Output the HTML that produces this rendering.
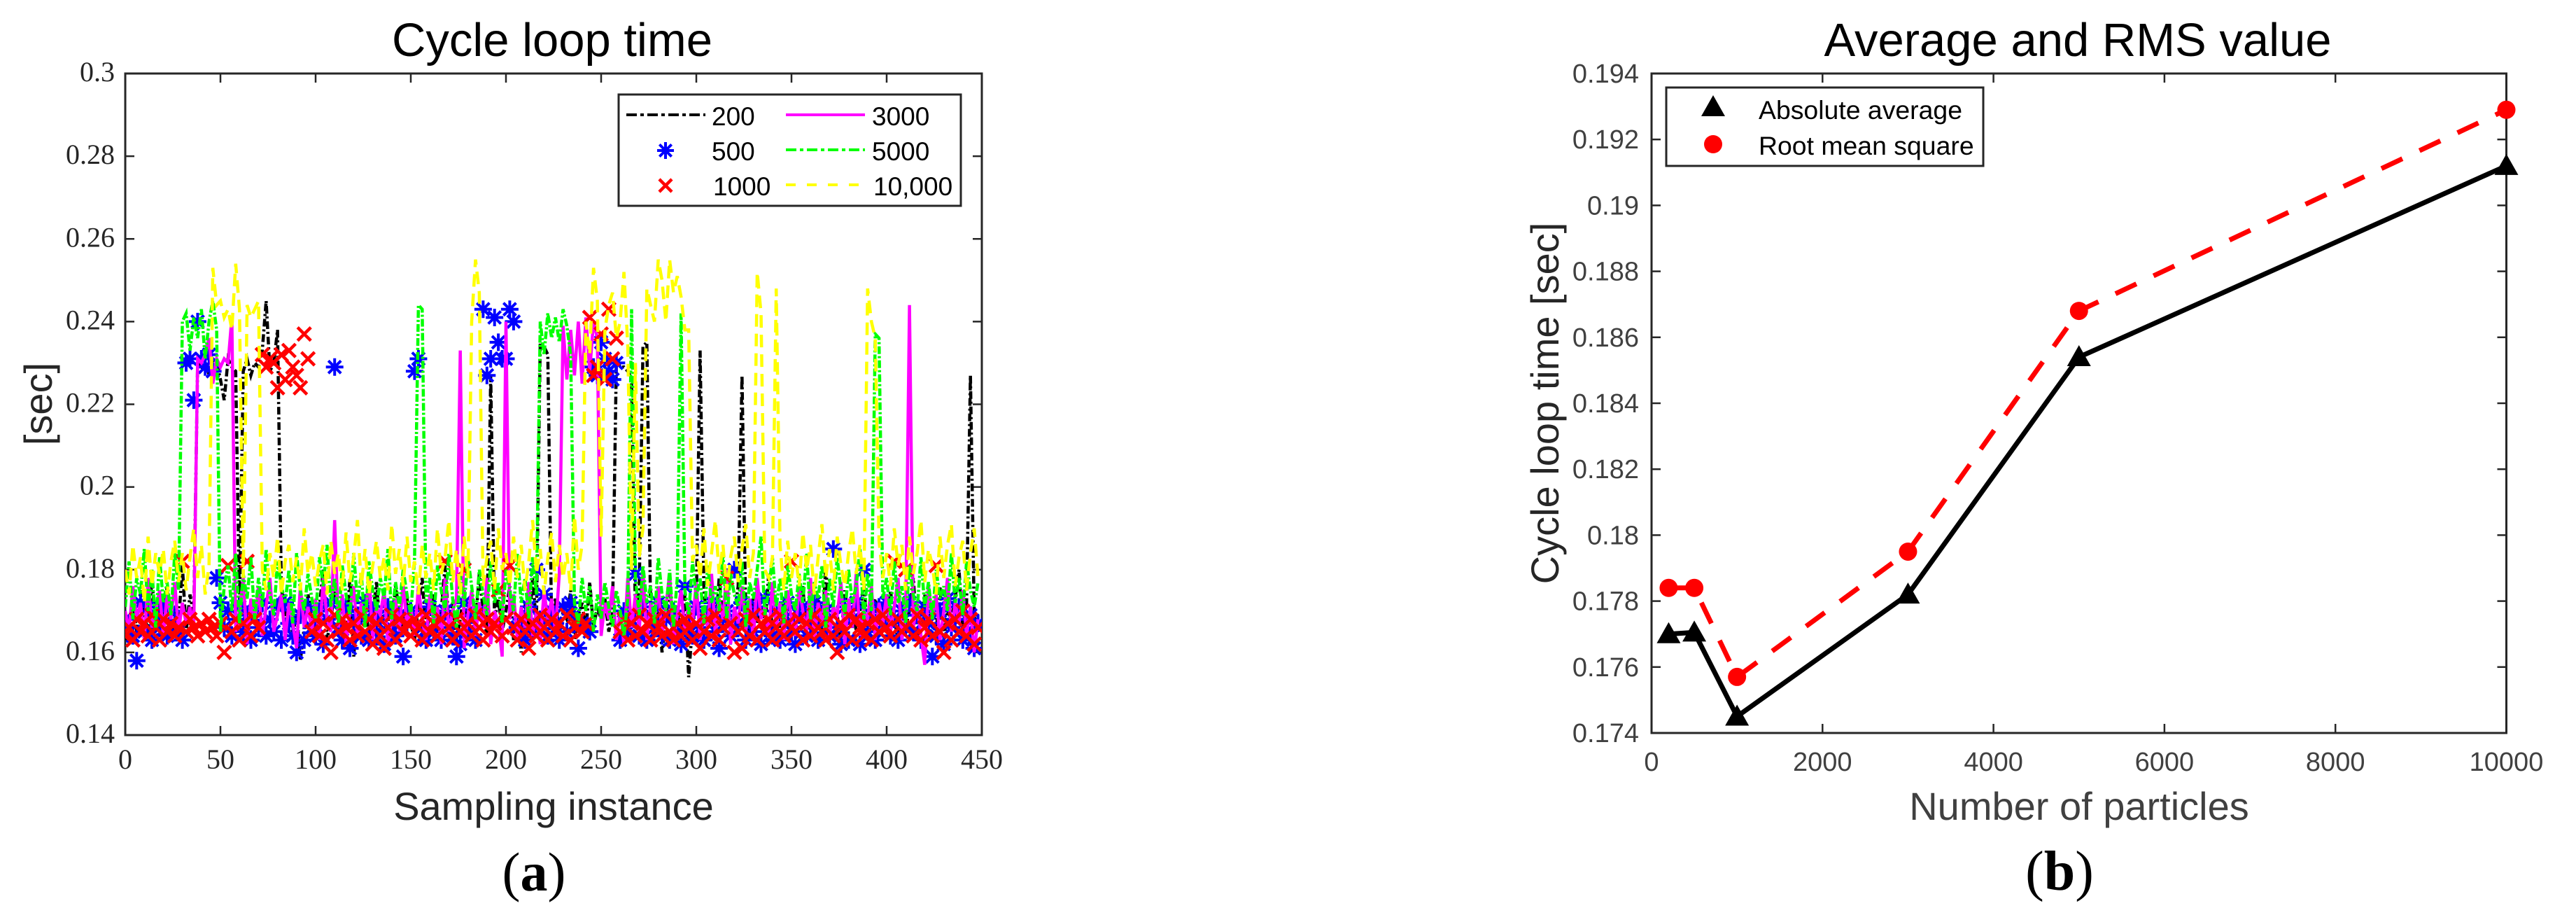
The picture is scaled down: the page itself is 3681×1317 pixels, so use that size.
<!DOCTYPE html>
<html lang="en">
<head>
<meta charset="utf-8">
<title>Cycle loop time and RMS value</title>
<style>
html,body{margin:0;padding:0;background:#fff}
svg{display:block}
.sans{font-family:"Liberation Sans",sans-serif}
.serif{font-family:"Liberation Serif",serif}
</style>
</head>
<body>
<svg id="fig" xmlns="http://www.w3.org/2000/svg" width="3681" height="1317" viewBox="0 0 3681 1317">
<rect width="3681" height="1317" fill="#fff"/>
<defs><clipPath id="clipA"><rect x="179" y="105" width="1224" height="945"/></clipPath></defs>
<g id="chartA">
<text class="sans" x="789" y="80" font-size="67" text-anchor="middle" fill="#000">Cycle loop time</text>
<text class="sans" x="791" y="1171" font-size="56" text-anchor="middle" fill="#262626">Sampling instance</text>
<text class="sans" transform="translate(74,577) rotate(-90)" font-size="56" text-anchor="middle" fill="#262626">[sec]</text>
<g id="axesA"></g>
<g id="marksA" clip-path="url(#clipA)"></g>
<g id="legendA">
<rect x="884" y="135" width="489" height="159" fill="#fff" stroke="#262626" stroke-width="3"/>
<line x1="895" y1="164" x2="1008" y2="164" stroke="#000" stroke-width="4" stroke-dasharray="15,5,5,5"/>
<text class="sans" x="1017" y="179" font-size="37">200</text>
<g id="legMark500"></g>
<text class="sans" x="1017" y="229" font-size="37">500</text>
<g id="legMark1000"></g>
<text class="sans" x="1019" y="279" font-size="37">1000</text>
<line x1="1123" y1="164" x2="1236" y2="164" stroke="#f0f" stroke-width="4"/>
<text class="sans" x="1246" y="179" font-size="37">3000</text>
<line x1="1123" y1="214" x2="1236" y2="214" stroke="#0f0" stroke-width="4" stroke-dasharray="15,5,5,5"/>
<text class="sans" x="1246" y="229" font-size="37">5000</text>
<line x1="1123" y1="264" x2="1236" y2="264" stroke="#ff0" stroke-width="4" stroke-dasharray="14,16"/>
<text class="sans" x="1248" y="279" font-size="37">10,000</text>
</g>
</g>
<text class="serif" x="763" y="1272" font-size="78" text-anchor="middle" fill="#000">(<tspan font-weight="bold">a</tspan>)</text>
<g id="chartB">
<text class="sans" x="2969" y="80" font-size="67" text-anchor="middle" fill="#000">Average and RMS value</text>
<text class="sans" x="2971" y="1171" font-size="56" text-anchor="middle" fill="#404040">Number of particles</text>
<text class="sans" transform="translate(2227,576) rotate(-90)" font-size="56" text-anchor="middle" fill="#262626">Cycle loop time [sec]</text>
<g id="axesB"></g>
<g id="marksB"></g>
<g id="legendB">
<rect x="2381" y="125" width="453" height="112" fill="#fff" stroke="#262626" stroke-width="3"/>
<polygon points="2448,136 2431,166 2465,166" fill="#000"/>
<text class="sans" x="2513" y="170" font-size="37.4" fill="#000">Absolute average</text>
<circle cx="2448" cy="206" r="13" fill="#f00"/>
<text class="sans" x="2513" y="221" font-size="37.4" fill="#000">Root mean square</text>
</g>
</g>
<text class="serif" x="2943" y="1271" font-size="80" text-anchor="middle" fill="#000">(<tspan font-weight="bold">b</tspan>)</text>
</svg>
<script>
// Chart (a): cycle loop time in milliseconds, one reading per second sampling instance
const series200 = [
163,168,172,165,175,170,164,178,166,172,168,176,163,171,167,181,165,174,169,230,229,232,227,231,230,
226,221,231,229,228,172,228,231,227,230,229,233,245,228,230,238,176,168,172,164,170,158,166,174,169,
165,171,180,163,168,175,166,172,164,178,159,170,167,174,163,169,177,165,172,168,164,176,170,166,173,
167,163,171,178,165,169,174,164,170,181,166,172,163,168,175,165,171,167,179,170,164,227,168,173,165,
170,176,163,168,160,172,165,178,167,235,234,232,166,173,164,170,168,175,163,169,172,165,177,166,171,
168,173,165,170,231,229,229,228,226,169,175,234,235,170,164,172,160,168,176,165,171,163,174,154,167,
172,233,175,166,170,164,178,168,172,165,169,176,227,168,163,174,167,171,165,179,164,170,166,173,168,
165,172,168,176,163,170,167,174,164,181,166,171,169,163,175,168,172,165,170,177,164,169,173,167,171,
165,175,168,163,172,166,170,178,164,169,174,167,171,165,176,163,170,168,173,180,166,172,227,169,165];
const series500 = [
168,166,164,158,172,165,171,163,169,166,172,164,170,167,165,163,230,231,221,240,231,229,232,228,178,
172,166,170,164,168,171,165,169,163,170,166,172,164,168,165,171,163,172,167,164,160,169,163,171,166,
164,170,162,168,172,229,166,163,171,161,167,169,164,172,163,170,165,168,162,171,166,164,169,159,167,
170,228,231,166,163,171,165,168,163,170,166,164,159,162,172,165,169,163,170,243,227,231,241,235,231,
231,243,240,166,168,163,171,165,180,168,174,164,170,167,163,171,165,172,169,161,167,166,165,229,227,
235,231,228,226,230,163,170,165,168,179,164,171,163,169,166,172,164,168,163,170,165,162,176,167,164,
171,166,163,169,172,165,161,168,170,164,180,167,172,163,169,165,171,162,173,166,164,170,163,168,172,
165,162,169,171,164,167,172,163,168,170,164,185,166,162,171,163,168,172,162,180,165,169,163,171,167,
172,164,168,163,170,166,172,165,169,163,171,167,159,164,170,162,173,166,168,171,163,165,169,161,167];
const series1000 = [
164,166,163,168,165,167,164,169,166,163,168,165,167,164,166,182,165,168,166,164,167,165,168,166,164,
167,160,181,165,168,163,167,182,164,168,166,232,229,231,230,224,232,226,233,229,227,224,237,231,165,
168,164,167,163,160,169,165,168,166,163,167,164,169,165,168,162,167,164,161,166,169,163,168,165,167,
164,168,166,163,169,165,167,164,168,182,166,163,168,165,180,167,164,169,166,163,168,165,167,175,164,
168,181,166,163,168,165,161,167,164,169,166,163,168,165,167,164,169,163,166,168,165,167,241,227,229,
237,226,243,231,236,165,168,163,167,164,169,165,167,163,168,166,164,169,165,163,167,164,168,166,163,
167,161,165,168,164,169,163,166,178,167,160,165,161,168,164,169,163,167,165,168,163,166,169,164,167,
182,165,168,163,167,164,169,166,165,163,168,164,160,167,165,169,163,168,166,164,167,163,168,165,169,
166,164,182,168,165,180,167,164,169,163,166,168,164,181,165,160,167,163,168,165,170,164,168,162,166];
const series3000 = [
170,165,176,168,172,163,178,166,170,175,164,174,168,177,165,172,167,171,166,231,230,232,236,225,231,
229,231,230,241,165,170,178,162,173,167,176,164,171,178,165,169,174,163,172,167,161,176,166,171,165,
173,163,178,168,165,192,166,174,162,170,176,164,172,167,179,163,171,169,175,162,168,173,165,177,166,
171,164,176,168,163,174,167,171,162,178,165,170,173,233,161,169,175,164,172,166,178,162,170,167,159,
240,168,174,163,171,166,177,164,170,162,175,168,173,165,179,239,226,238,227,240,225,241,228,240,236,
164,172,168,176,163,170,162,178,166,174,165,180,163,172,168,176,164,171,179,162,169,175,165,172,167,
177,163,170,166,179,164,173,168,180,162,171,167,176,165,173,163,178,168,171,164,177,166,172,163,175,
168,164,176,170,165,178,163,172,167,175,164,171,169,177,162,173,166,179,164,170,168,176,163,172,167,
174,165,171,178,163,169,244,166,172,164,157,176,168,174,163,170,178,165,172,167,175,164,171,160,168];
const series5000 = [
171,182,168,178,174,185,170,180,166,183,172,177,169,184,175,240,242,233,241,236,243,231,240,245,238,
165,176,181,170,184,167,179,173,183,168,178,171,185,174,169,182,176,172,180,167,184,175,170,179,173,
168,183,176,186,171,178,167,181,174,169,184,172,179,166,182,175,170,178,173,185,168,177,171,180,174,
169,183,244,243,172,178,167,181,175,170,184,173,166,179,171,183,176,168,180,174,169,182,172,177,167,
180,175,170,184,172,178,168,183,174,240,232,242,236,241,235,243,239,232,172,167,178,170,176,165,174,
168,177,171,166,175,170,164,173,243,178,169,181,172,176,167,183,174,170,180,166,178,242,175,169,182,
173,178,167,181,172,176,170,184,168,179,174,171,182,166,177,173,180,188,169,175,183,171,178,167,181,
174,170,179,172,184,168,177,173,181,166,178,171,183,175,169,180,172,176,185,168,179,170,237,236,173,
178,169,182,172,176,167,181,174,170,183,171,177,168,180,173,176,170,184,172,178,169,182,175,171,177];
const series10000 = [
180,174,186,178,183,172,188,176,184,179,185,174,182,187,177,184,175,183,190,178,186,174,181,253,244,
245,241,243,238,254,243,178,244,241,243,245,180,175,184,178,188,174,182,186,177,183,175,190,179,184,
176,182,186,174,187,179,184,175,189,177,183,192,176,185,174,181,187,178,183,175,191,179,185,176,188,
177,182,174,186,178,184,175,190,179,183,192,177,185,174,188,178,240,255,247,176,183,187,175,190,180,
184,176,188,178,186,175,182,192,179,185,174,183,189,177,186,178,184,175,193,180,186,240,232,253,245,
188,238,244,247,236,240,252,234,180,230,183,190,248,244,240,255,250,240,255,247,251,246,238,238,182,
186,178,190,176,184,192,179,186,175,183,188,177,185,191,178,184,252,242,180,178,183,248,186,175,187,
178,184,176,189,180,186,174,183,191,178,185,175,188,181,176,184,190,179,186,175,248,240,236,187,178,
184,176,190,181,186,175,188,179,184,192,177,185,181,174,188,178,186,191,176,183,187,175,184,190,178];
const instanceStep = 2;
const ticksAX = [0,50,100,150,200,250,300,350,400,450];
const ticksAY = ["0.14","0.16","0.18","0.2","0.22","0.24","0.26","0.28","0.3"];

// Chart (b)
const particleCounts = [200,500,1000,3000,5000,10000];
const absoluteAverage = [0.1770,0.17705,0.1745,0.1782,0.1854,0.1912];
const rootMeanSquare = [0.1784,0.1784,0.1757,0.1795,0.1868,0.1929];
const ticksBX = [0,2000,4000,6000,8000,10000];
const ticksBY = ["0.174","0.176","0.178","0.18","0.182","0.184","0.186","0.188","0.19","0.192","0.194"];

const NS = 'http://www.w3.org/2000/svg';
function make(tag, parent){
  const el = document.createElementNS(NS, tag);
  parent.appendChild(el);
  return el;
}
const xA = v => 179 + (v - 0) / 450 * 1224;
const yA = v => 1050 - (v - 0.14) / 0.16 * 945;
const xB = v => 2360 + v / 10000 * 1221.5;
const yB = v => 1047 - (v - 0.174) / 0.02 * 942;

function drawAxes(group, L, T, R, B, xTicks, xFn, yTicks, yFn, opts){
  const box = make('rect', group);
  
  
  box.setAttribute('x', L); box.setAttribute('y', T);
  box.setAttribute('width', R - L); box.setAttribute('height', B - T);
  box.setAttribute('fill', 'none'); box.setAttribute('stroke', '#262626'); box.setAttribute('stroke-width', 3);
  xTicks.forEach(t => {
    const x = xFn(t);
    [[B, B - 13], [T, T + 13]].forEach(p => {
      const tick = make('line', group);
      
      
      tick.setAttribute('x1', x); tick.setAttribute('x2', x);
      tick.setAttribute('y1', p[0]); tick.setAttribute('y2', p[1]);
      tick.setAttribute('stroke', '#262626'); tick.setAttribute('stroke-width', 2.5);
    });
    const lab = make('text', group);
    
    
    lab.setAttribute('class', opts.cls);
    lab.setAttribute('x', x); lab.setAttribute('y', opts.xBase);
    lab.setAttribute('font-size', opts.size); lab.setAttribute('text-anchor', 'middle');
    lab.setAttribute('fill', opts.color);
    lab.textContent = t;
  });
  yTicks.forEach(s => {
    const y = yFn(parseFloat(s));
    [[L, L + 13], [R, R - 13]].forEach(p => {
      const tick = make('line', group);
      
      
      tick.setAttribute('y1', y); tick.setAttribute('y2', y);
      tick.setAttribute('x1', p[0]); tick.setAttribute('x2', p[1]);
      tick.setAttribute('stroke', '#262626'); tick.setAttribute('stroke-width', 2.5);
    });
    const lab = make('text', group);
    
    
    lab.setAttribute('class', opts.cls);
    lab.setAttribute('x', opts.yRight); lab.setAttribute('y', y + opts.yShift);
    lab.setAttribute('font-size', opts.size); lab.setAttribute('text-anchor', 'end');
    lab.setAttribute('fill', opts.color);
    lab.textContent = s;
  });
}
drawAxes(document.getElementById('axesA'), 179, 105, 1403, 1050, ticksAX, xA, ticksAY, yA,
  {cls:'serif', size:40, color:'#262626', xBase:1098, yRight:164, yShift:11});
drawAxes(document.getElementById('axesB'), 2360, 105, 3581.5, 1047, ticksBX, xB, ticksBY, yB,
  {cls:'sans', size:38, color:'#404040', xBase:1101, yRight:2342, yShift:13});

function linePath(values){
  return values.map((v, i) => (i ? 'L' : 'M') + xA(i * instanceStep).toFixed(1) + ' ' + yA(v / 1000).toFixed(1)).join('');
}
function asteriskPath(x, y, r){
  const d = r * 0.72;
  return 'M' + x + ' ' + (y - r) + 'V' + (y + r) + 'M' + (x - r) + ' ' + y + 'H' + (x + r) +
    'M' + (x - d) + ' ' + (y - d) + 'L' + (x + d) + ' ' + (y + d) +
    'M' + (x - d) + ' ' + (y + d) + 'L' + (x + d) + ' ' + (y - d);
}
function crossPath(x, y, r){
  return 'M' + (x - r) + ' ' + (y - r) + 'L' + (x + r) + ' ' + (y + r) +
    'M' + (x - r) + ' ' + (y + r) + 'L' + (x + r) + ' ' + (y - r);
}
function markerPath(values, fn, r){
  return values.map((v, i) => fn(+xA(i * instanceStep).toFixed(1), +yA(v / 1000).toFixed(1), r)).join('');
}
const marksA = document.getElementById('marksA');

const line200 = make('path', marksA);


line200.setAttribute('d', linePath(series200));
line200.setAttribute('fill', 'none'); line200.setAttribute('stroke', '#000');
line200.setAttribute('stroke-width', 4.5); line200.setAttribute('stroke-dasharray', '11,4,3,4');

const mark500 = make('path', marksA);


mark500.setAttribute('d', markerPath(series500, asteriskPath, 12.5));
mark500.setAttribute('fill', 'none'); mark500.setAttribute('stroke', '#00f'); mark500.setAttribute('stroke-width', 4);

const line3000 = make('path', marksA);


line3000.setAttribute('d', linePath(series3000));
line3000.setAttribute('fill', 'none'); line3000.setAttribute('stroke', '#f0f'); line3000.setAttribute('stroke-width', 4.5);

const mark1000 = make('path', marksA);


mark1000.setAttribute('d', markerPath(series1000, crossPath, 9.5));
mark1000.setAttribute('fill', 'none'); mark1000.setAttribute('stroke', '#f00'); mark1000.setAttribute('stroke-width', 4.5);

const line5000 = make('path', marksA);


line5000.setAttribute('d', linePath(series5000));
line5000.setAttribute('fill', 'none'); line5000.setAttribute('stroke', '#0f0');
line5000.setAttribute('stroke-width', 4.5); line5000.setAttribute('stroke-dasharray', '11,3,3,3');

const line10000 = make('path', marksA);


line10000.setAttribute('d', linePath(series10000));
line10000.setAttribute('fill', 'none'); line10000.setAttribute('stroke', '#ff0');
line10000.setAttribute('stroke-width', 4.5); line10000.setAttribute('stroke-dasharray', '18,10');

const leg500 = make('path', document.getElementById('legMark500'));


leg500.setAttribute('d', asteriskPath(951, 215, 12));
leg500.setAttribute('fill', 'none'); leg500.setAttribute('stroke', '#00f'); leg500.setAttribute('stroke-width', 4);

const leg1000 = make('path', document.getElementById('legMark1000'));


leg1000.setAttribute('d', crossPath(951, 265, 9));
leg1000.setAttribute('fill', 'none'); leg1000.setAttribute('stroke', '#f00'); leg1000.setAttribute('stroke-width', 4.5);

// Chart (b) marks
const marksB = document.getElementById('marksB');
const bPts = arr => arr.map((v, i) => xB(particleCounts[i]).toFixed(1) + ',' + yB(v).toFixed(1)).join(' ');

const rmsLine = make('polyline', marksB);


rmsLine.setAttribute('points', bPts(rootMeanSquare));
rmsLine.setAttribute('fill', 'none'); rmsLine.setAttribute('stroke', '#f00');
rmsLine.setAttribute('stroke-width', 7); rmsLine.setAttribute('stroke-dasharray', '33,27');

const avgLine = make('polyline', marksB);


avgLine.setAttribute('points', bPts(absoluteAverage));
avgLine.setAttribute('fill', 'none'); avgLine.setAttribute('stroke', '#000'); avgLine.setAttribute('stroke-width', 7);

absoluteAverage.forEach((v, i) => {
  const x = xB(particleCounts[i]), y = yB(v);
  const tri = make('polygon', marksB);
  
  
  tri.setAttribute('points', x + ',' + (y - 17) + ' ' + (x - 17) + ',' + (y + 13) + ' ' + (x + 17) + ',' + (y + 13));
  tri.setAttribute('fill', '#000');
});
rootMeanSquare.forEach((v, i) => {
  const dot = make('circle', marksB);
  
  
  dot.setAttribute('cx', xB(particleCounts[i]));
  dot.setAttribute('cy', yB(v));
  dot.setAttribute('r', 13);
  dot.setAttribute('fill', '#f00');
});
</script>
</body>
</html>
